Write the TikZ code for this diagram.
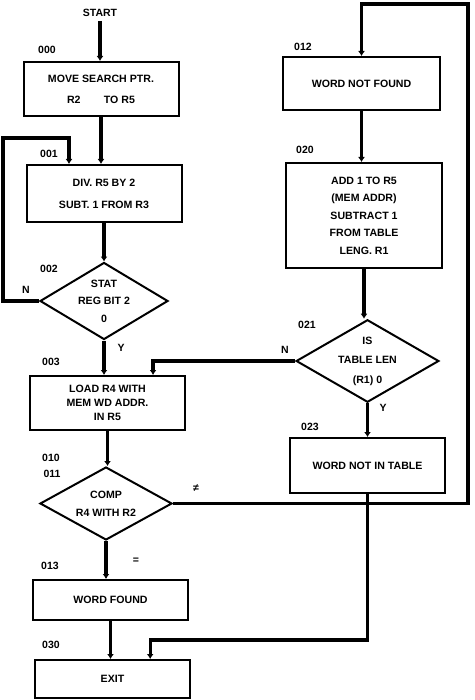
\documentclass[tikz,border=0pt]{standalone}
\usepackage{fontspec}
\setmainfont{Liberation Sans}
\usetikzlibrary{shapes.geometric,arrows.meta,calc}
\tikzset{
  base/.style={font=\bfseries\fontsize{10.6}{#1}\selectfont, align=center, inner sep=0pt},
  box/.style={base=#1, draw, line width=2pt, rectangle},
  dia/.style={base=#1, draw, line width=2pt, diamond},
  lbl/.style={font=\bfseries\fontsize{10.5}{11}\selectfont, inner sep=0pt},
  conn/.style={line width=3.2pt, -{Latex[length=5pt,width=7pt]}},
}
\begin{document}
\begin{tikzpicture}[x=1pt,y=-1pt]
\useasboundingbox (0,0) rectangle (474,700);
% left column
\node[lbl] (start) at (100,13) {START};
\node[box=21, minimum width=155pt, minimum height=54pt] (b000) at (101,89) {MOVE SEARCH PTR.\\R2\hspace{2.2em}TO R5};
\node[box=22, minimum width=155pt, minimum height=57pt] (b001) at (104,193.5) {DIV. R5 BY 2\\SUBT. 1 FROM R3};
\node[dia=17.5, minimum width=128pt, minimum height=77pt, aspect=1.66] (d002) at (104,301) {STAT\\REG BIT 2\\0};
\node[box=14, minimum width=155pt, minimum height=54pt] (b003) at (107.5,403) {LOAD R4 WITH\\MEM WD ADDR.\\IN R5};
\node[dia=18, minimum width=132pt, minimum height=73pt, aspect=1.8] (d010) at (106,503.5) {COMP\\R4 WITH R2};
\node[box=14, minimum width=155pt, minimum height=40pt] (b013) at (110.5,600) {WORD FOUND};
\node[box=14, minimum width=155pt, minimum height=38pt] (exit) at (112.5,679) {EXIT};
% right column
\node[box=14, minimum width=157pt, minimum height=53pt] (b012) at (361.5,83.5) {WORD NOT FOUND};
\node[box=17.5, minimum width=156pt, minimum height=105pt] (b020) at (364,215.5) {ADD 1 TO R5\\(MEM ADDR)\\SUBTRACT 1\\FROM TABLE\\LENG. R1};
\node[dia=19.5, minimum width=135pt, minimum height=78pt, aspect=1.73] (d021) at (367.5,361) {IS\\TABLE LEN\\(R1) 0};
\node[box=14, minimum width=155pt, minimum height=55pt] (b023) at (367.5,465.5) {WORD NOT IN TABLE};
% labels
\node[lbl] (l000) at (47,50) {000};
\node[lbl] (l001) at (49,154) {001};
\node[lbl] (l002) at (49,269) {002};
\node[lbl] (lN1) at (26,290) {N};
\node[lbl] (lY1) at (121,348) {Y};
\node[lbl] (l003) at (51,362) {003};
\node[lbl] (l010) at (51,458) {010};
\node[lbl] (l011) at (52,474) {011};
\node[lbl] (lne) at (196,488) {≠};
\node[lbl] (leq) at (136,561) {=};
\node[lbl] (l013) at (50,566) {013};
\node[lbl] (l030) at (51,645) {030};
\node[lbl] (l012) at (303,47) {012};
\node[lbl] (l020) at (305,150) {020};
\node[lbl] (l021) at (307,325) {021};
\node[lbl] (lN2) at (285,350) {N};
\node[lbl] (lY2) at (383,408) {Y};
\node[lbl] (l023) at (310,427) {023};
% helper coordinates
\coordinate (lpA) at (3,138);
\coordinate (rb) at (468,503.5);
\coordinate (rt) at (468,4);
\coordinate (eb) at (370,640);
% connectors
\draw[conn] (start.south) ++(0,4) -- (start.south |- b000.north);
\draw[conn] (b000.south) -- (b000.south |- b001.north);
\draw[conn] (b001.south) -- (d002.north);
\draw[conn] (d002.west) -| (lpA) -| ($(b001.north west)!0.277!(b001.north east)$);
\draw[conn] (d002.south) -- (d002.south |- b003.north);
\draw[conn] (b003.south) -- (b003.south |- d010.north);
\draw[conn] (d010.south) -- (d010.south |- b013.north);
\draw[conn] (b013.south) -- (b013.south |- exit.north);
\draw[conn] (d010.east) -- (rb) -- (rt) -| (b012.north);
\draw[conn] (b012.south) -- (b012.south |- b020.north);
\draw[conn] (b020.south) -- (b020.south |- d021.north);
\draw[conn] (d021.west) -| ($(b003.north west)!0.79!(b003.north east)$);
\draw[conn] (d021.south) -- (d021.south |- b023.north);
\draw[conn] (b023.south) -- (b023.south |- eb) -| ($(exit.north west)!0.74!(exit.north east)$);
\end{tikzpicture}
\end{document}
